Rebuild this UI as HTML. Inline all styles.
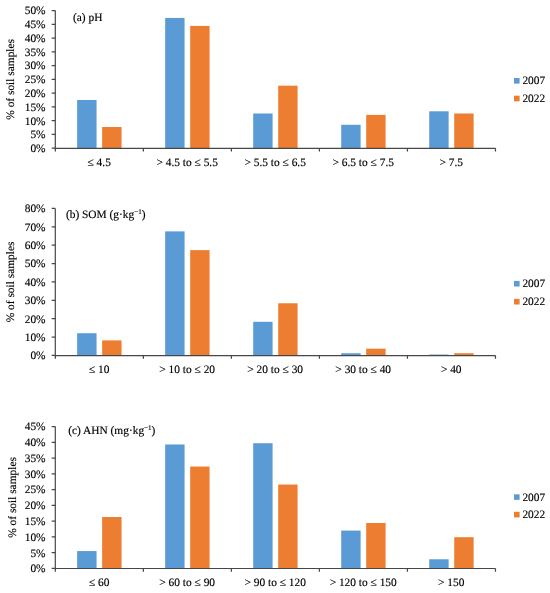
<!DOCTYPE html>
<html><head><meta charset="utf-8"><title>Soil charts</title>
<style>
html,body{margin:0;padding:0;background:#fff;}
body{width:550px;height:593px;overflow:hidden;}
svg{display:block;}
text{text-rendering:geometricPrecision;font-family:'Liberation Serif', 'Times New Roman', serif;font-size:11.4px;fill:#000;stroke:#000;stroke-width:0.15px;}
</style></head><body>
<svg width="550" height="593" viewBox="0 0 550 593">
<rect width="550" height="593" fill="#fff"/>
<rect x="77.15" y="100.00" width="19.4" height="48.19" fill="#5B9BD5"/>
<rect x="102.15" y="126.99" width="19.4" height="21.21" fill="#ED7D31"/>
<rect x="165.17" y="17.94" width="19.4" height="130.26" fill="#5B9BD5"/>
<rect x="190.17" y="25.92" width="19.4" height="122.28" fill="#ED7D31"/>
<rect x="253.19" y="113.50" width="19.4" height="34.70" fill="#5B9BD5"/>
<rect x="278.19" y="85.68" width="19.4" height="62.52" fill="#ED7D31"/>
<rect x="341.21" y="124.79" width="19.4" height="23.41" fill="#5B9BD5"/>
<rect x="366.21" y="114.88" width="19.4" height="33.32" fill="#ED7D31"/>
<rect x="429.23" y="111.30" width="19.4" height="36.90" fill="#5B9BD5"/>
<rect x="454.23" y="113.50" width="19.4" height="34.70" fill="#ED7D31"/>
<path d="M55.3 10.50V148.30H495.55" fill="none" stroke="#474747" stroke-width="1.2"/>
<text x="45.6" y="152.10" text-anchor="end">0%</text>
<text x="45.6" y="138.33" text-anchor="end">5%</text>
<text x="45.6" y="124.56" text-anchor="end">10%</text>
<text x="45.6" y="110.79" text-anchor="end">15%</text>
<text x="45.6" y="97.02" text-anchor="end">20%</text>
<text x="45.6" y="83.25" text-anchor="end">25%</text>
<text x="45.6" y="69.48" text-anchor="end">30%</text>
<text x="45.6" y="55.71" text-anchor="end">35%</text>
<text x="45.6" y="41.94" text-anchor="end">40%</text>
<text x="45.6" y="28.17" text-anchor="end">45%</text>
<text x="45.6" y="14.40" text-anchor="end">50%</text>
<path d="M51.70 148.20H55.3M51.70 134.43H55.3M51.70 120.66H55.3M51.70 106.89H55.3M51.70 93.12H55.3M51.70 79.35H55.3M51.70 65.58H55.3M51.70 51.81H55.3M51.70 38.04H55.3M51.70 24.27H55.3M51.70 10.50H55.3M55.35 148.20V151.60M143.37 148.20V151.60M231.39 148.20V151.60M319.41 148.20V151.60M407.43 148.20V151.60M495.45 148.20V151.60" fill="none" stroke="#474747" stroke-width="1.25"/>
<text x="99.16" y="165.70" text-anchor="middle">≤ 4.5</text>
<text x="187.18" y="165.70" text-anchor="middle">> 4.5 to ≤ 5.5</text>
<text x="275.20" y="165.70" text-anchor="middle">> 5.5 to ≤ 6.5</text>
<text x="363.22" y="165.70" text-anchor="middle">> 6.5 to ≤ 7.5</text>
<text x="451.24" y="165.70" text-anchor="middle">> 7.5</text>
<text x="73.0" y="20.8">(a) pH</text>
<text transform="translate(14.2 79.35) rotate(-90)" text-anchor="middle">% of soil samples</text>
<rect x="514" y="78.0" width="5.6" height="5.6" fill="#5B9BD5"/>
<text x="522.4" y="84.1">2007</text>
<rect x="514" y="95.7" width="5.6" height="5.6" fill="#ED7D31"/>
<text x="522.4" y="101.8">2022</text>
<rect x="77.15" y="333.21" width="19.4" height="22.24" fill="#5B9BD5"/>
<rect x="102.15" y="340.38" width="19.4" height="15.07" fill="#ED7D31"/>
<rect x="165.17" y="231.38" width="19.4" height="124.07" fill="#5B9BD5"/>
<rect x="190.17" y="250.13" width="19.4" height="105.32" fill="#ED7D31"/>
<rect x="253.19" y="321.81" width="19.4" height="33.64" fill="#5B9BD5"/>
<rect x="278.19" y="303.25" width="19.4" height="52.20" fill="#ED7D31"/>
<rect x="341.21" y="353.24" width="19.4" height="2.21" fill="#5B9BD5"/>
<rect x="366.21" y="348.65" width="19.4" height="6.80" fill="#ED7D31"/>
<rect x="429.23" y="354.53" width="19.4" height="0.92" fill="#5B9BD5"/>
<rect x="454.23" y="353.24" width="19.4" height="2.21" fill="#ED7D31"/>
<path d="M55.3 208.40V355.55H495.55" fill="none" stroke="#474747" stroke-width="1.2"/>
<text x="45.6" y="359.35" text-anchor="end">0%</text>
<text x="45.6" y="340.97" text-anchor="end">10%</text>
<text x="45.6" y="322.59" text-anchor="end">20%</text>
<text x="45.6" y="304.21" text-anchor="end">30%</text>
<text x="45.6" y="285.82" text-anchor="end">40%</text>
<text x="45.6" y="267.44" text-anchor="end">50%</text>
<text x="45.6" y="249.06" text-anchor="end">60%</text>
<text x="45.6" y="230.68" text-anchor="end">70%</text>
<text x="45.6" y="212.30" text-anchor="end">80%</text>
<path d="M51.70 355.45H55.3M51.70 337.07H55.3M51.70 318.69H55.3M51.70 300.31H55.3M51.70 281.93H55.3M51.70 263.54H55.3M51.70 245.16H55.3M51.70 226.78H55.3M51.70 208.40H55.3M55.35 355.45V358.85M143.37 355.45V358.85M231.39 355.45V358.85M319.41 355.45V358.85M407.43 355.45V358.85M495.45 355.45V358.85" fill="none" stroke="#474747" stroke-width="1.25"/>
<text x="99.16" y="372.95" text-anchor="middle">≤ 10</text>
<text x="187.18" y="372.95" text-anchor="middle">> 10 to ≤ 20</text>
<text x="275.20" y="372.95" text-anchor="middle">> 20 to ≤ 30</text>
<text x="363.22" y="372.95" text-anchor="middle">> 30 to ≤ 40</text>
<text x="451.24" y="372.95" text-anchor="middle">> 40</text>
<text x="65.9" y="217.7">(b) SOM (g·kg<tspan font-size="7" dy="-4">−1</tspan><tspan dy="4">)</tspan></text>
<text transform="translate(14.2 281.93) rotate(-90)" text-anchor="middle">% of soil samples</text>
<rect x="514" y="280.9" width="5.6" height="5.6" fill="#5B9BD5"/>
<text x="522.4" y="287.0">2007</text>
<rect x="514" y="298.9" width="5.6" height="5.6" fill="#ED7D31"/>
<text x="522.4" y="304.7">2022</text>
<rect x="77.15" y="551.06" width="19.4" height="17.34" fill="#5B9BD5"/>
<rect x="102.15" y="517.00" width="19.4" height="51.40" fill="#ED7D31"/>
<rect x="165.17" y="444.47" width="19.4" height="123.93" fill="#5B9BD5"/>
<rect x="190.17" y="466.55" width="19.4" height="101.85" fill="#ED7D31"/>
<rect x="253.19" y="443.21" width="19.4" height="125.19" fill="#5B9BD5"/>
<rect x="278.19" y="484.52" width="19.4" height="83.88" fill="#ED7D31"/>
<rect x="341.21" y="530.56" width="19.4" height="37.84" fill="#5B9BD5"/>
<rect x="366.21" y="522.99" width="19.4" height="45.41" fill="#ED7D31"/>
<rect x="429.23" y="559.26" width="19.4" height="9.14" fill="#5B9BD5"/>
<rect x="454.23" y="537.18" width="19.4" height="31.22" fill="#ED7D31"/>
<path d="M55.3 426.50V568.50H495.55" fill="none" stroke="#474747" stroke-width="1.2"/>
<text x="45.6" y="572.30" text-anchor="end">0%</text>
<text x="45.6" y="556.53" text-anchor="end">5%</text>
<text x="45.6" y="540.77" text-anchor="end">10%</text>
<text x="45.6" y="525.00" text-anchor="end">15%</text>
<text x="45.6" y="509.23" text-anchor="end">20%</text>
<text x="45.6" y="493.47" text-anchor="end">25%</text>
<text x="45.6" y="477.70" text-anchor="end">30%</text>
<text x="45.6" y="461.93" text-anchor="end">35%</text>
<text x="45.6" y="446.17" text-anchor="end">40%</text>
<text x="45.6" y="430.40" text-anchor="end">45%</text>
<path d="M51.70 568.40H55.3M51.70 552.63H55.3M51.70 536.87H55.3M51.70 521.10H55.3M51.70 505.33H55.3M51.70 489.57H55.3M51.70 473.80H55.3M51.70 458.03H55.3M51.70 442.27H55.3M51.70 426.50H55.3M55.35 568.40V571.80M143.37 568.40V571.80M231.39 568.40V571.80M319.41 568.40V571.80M407.43 568.40V571.80M495.45 568.40V571.80" fill="none" stroke="#474747" stroke-width="1.25"/>
<text x="99.16" y="585.90" text-anchor="middle">≤ 60</text>
<text x="187.18" y="585.90" text-anchor="middle">> 60 to ≤ 90</text>
<text x="275.20" y="585.90" text-anchor="middle">> 90 to ≤ 120</text>
<text x="363.22" y="585.90" text-anchor="middle">> 120 to ≤ 150</text>
<text x="451.24" y="585.90" text-anchor="middle">> 150</text>
<text x="68.2" y="434.4">(c) AHN (mg·kg<tspan font-size="7" dy="-4">−1</tspan><tspan dy="4">)</tspan></text>
<text transform="translate(15.5 497.45) rotate(-90)" text-anchor="middle">% of soil samples</text>
<rect x="514" y="494.3" width="5.6" height="5.6" fill="#5B9BD5"/>
<text x="522.4" y="500.5">2007</text>
<rect x="514" y="511.8" width="5.6" height="5.6" fill="#ED7D31"/>
<text x="522.4" y="517.7">2022</text>
</svg>
</body></html>
